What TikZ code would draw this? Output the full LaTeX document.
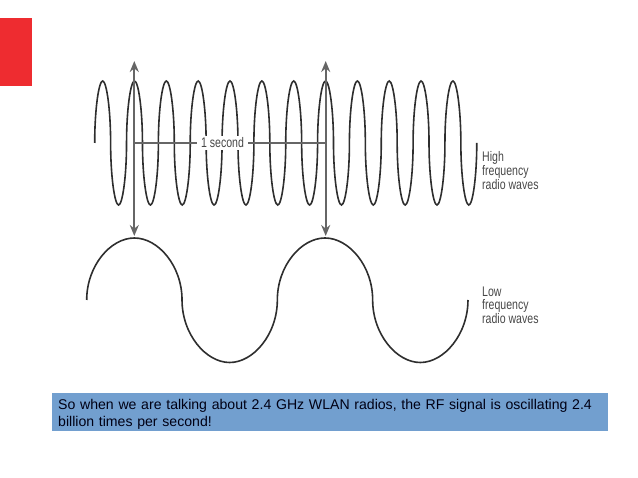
\documentclass[tikz,border=0pt]{standalone}
\usepackage{fontspec}
\setmainfont{Liberation Sans}
\newfontfamily\narrowfont[FakeStretch=0.76]{Liberation Sans}
\usetikzlibrary{positioning}
\usetikzlibrary{arrows, arrows.meta}
\definecolor{slidered}{HTML}{EE2C30}
\definecolor{slideblue}{HTML}{729FCF}
\definecolor{figgray}{HTML}{666666}
\definecolor{wavegray}{HTML}{2E2E2E}
\tikzset{myarrow/.style={{Stealth[length=11pt, width=9pt]}-{Stealth[length=11pt, width=9pt]}, draw=figgray, line width=1.9pt}}
\tikzset{wave/.style={draw=wavegray, line width=1.6pt}}
\tikzset{beschriftung/.style={font=\narrowfont\fontsize{13.9}{13.7}\selectfont, text=figgray!70!black, align=left, inner sep=0pt}}

\begin{document}
\begin{tikzpicture}[x=1pt, y=-1pt]
		\useasboundingbox (0,0) rectangle (638,478);
		\fill[slidered] (0,18) rectangle (31.5,86);
		
		% HIGH
		\draw[wave] (94.7,143) foreach \i in {1,...,12} {
			.. controls +(0,-34) and +(-3.8,0) .. ++(7.96,-62)
			.. controls +(3.8,0) and +(0,-34) .. ++(7.96,62)
			.. controls +(0,34) and +(-3.8,0) .. ++(7.96,62)
			.. controls +(3.8,0) and +(0,34) .. ++(7.96,-62)
		};
		\node[beschriftung, anchor=west] (highText) at (482,170.5) {High\\frequency\\radio waves};
		
		% LOW
		\draw[wave] (86.7,300) foreach \i in {1,2} {
			.. controls +(0,-34) and +(-24,0) .. ++(47.66,-62)
			.. controls +(24,0) and +(0,-34) .. ++(47.66,62)
			.. controls +(0,34) and +(-24,0) .. ++(47.66,62.5)
			.. controls +(24,0) and +(0,34) .. ++(47.66,-62.5)
		};
		\node[beschriftung, anchor=west] (lowText) at (482,305) {Low\\frequency\\radio waves};
		
		% ARROWS
		\foreach \i/\x in {0/134.3,1/325.7} {
			\coordinate (top\i) at (\x,61);
			\coordinate (bot\i) at (\x,236);
			\coordinate (mid\i) at (\x,143);
			\draw[myarrow] (top\i) -- (bot\i);
		}
		\draw[draw=figgray, line width=1.9pt] (mid0) -- (mid1);
		\node[beschriftung, fill=white, minimum width=51pt, minimum height=14pt, align=center] (secText) at (222.5,143) {1 second};
		
		% TEXT
		\node[fill=slideblue, anchor=north west, minimum width=555.7pt, minimum height=38pt, inner xsep=6pt, inner ysep=0pt, text width=543.7pt, align=left, text=black!92!blue, font=\fontsize{14.1}{16.6}\selectfont] (capText) at (52,393) {\rule{0pt}{14.2pt}So when we are talking about 2.4 GHz WLAN radios, the RF signal is oscillating 2.4\\billion times per second!};
\end{tikzpicture}
\end{document}
